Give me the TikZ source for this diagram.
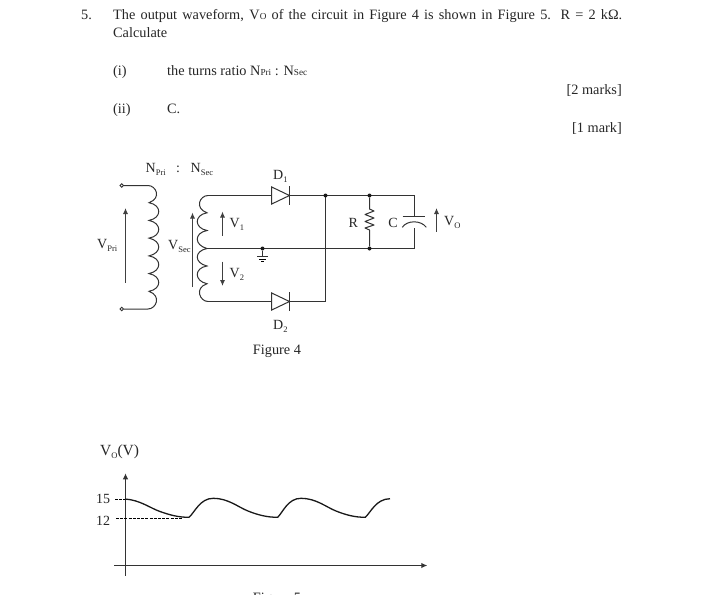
\documentclass[tikz,border=0pt]{standalone}
\usepackage{fontspec}
\setmainfont{Liberation Serif}
\usetikzlibrary{arrows.meta}
\tikzset{
  txt/.style={inner sep=0pt,font=\fontsize{14.3}{16}\selectfont,text=black!85},
  lbl/.style={inner sep=0pt,font=\fontsize{14}{16}\selectfont,text=black!85},
  wire/.style={line width=1pt,black!80},
  volt/.style={line width=1pt,black!75,-{Latex[length=6pt,width=5pt]}},
  dotn/.style={circle,fill=black!90,inner sep=0pt,minimum size=4pt},
  term/.style={circle,draw=black!80,fill=white,line width=0.9pt,inner sep=0pt,minimum size=3.6pt},
  dio/.style={line width=1pt,black!80,fill=white},
}
\newcommand{\subs}[1]{\raisebox{-3pt}{\fontsize{8.5}{9}\selectfont #1}}
\newcommand{\insub}[1]{\raisebox{-0.5pt}{\fontsize{9.2}{10}\selectfont #1}}
\begin{document}
\begin{tikzpicture}[x=1pt,y=-1pt]
\useasboundingbox (0,0) rectangle (705,595);
\fill[white] (0,0) rectangle (705,595);
% question text
\node[txt,anchor=base west] (q5) at (81,19) {5.};
\node[txt,anchor=base west] (q1) at (113,19) {\makebox[509pt][s]{The output waveform, V\insub{O} of the circuit in Figure 4 is shown in Figure 5. R = 2 kΩ.}};
\node[txt,anchor=base west] (q2) at (113,37) {Calculate};
\node[txt,anchor=base west] (qi) at (113,75) {(i)};
\node[txt,anchor=base west] (qit) at (167,75) {the turns ratio N\insub{Pri} : N\insub{Sec}};
\node[txt,anchor=base east] (m2) at (622,94) {[2 marks]};
\node[txt,anchor=base west] (qii) at (113,113) {(ii)};
\node[txt,anchor=base west] (qiit) at (167,113) {C.};
\node[txt,anchor=base east] (m1) at (622,132) {[1 mark]};
% terminals and coordinates
\node[term] (t1) at (121.7,185.5) {};
\node[term] (t2) at (121.7,309) {};
\coordinate (ptop) at (148,185.5);
\coordinate (pbot) at (148,309);
\coordinate (stop) at (208,195.5);
\coordinate (sbot) at (208,301.5);
\coordinate (smid) at (205,248.5);
\coordinate (c1) at (414.5,195.5);
\coordinate (c2) at (414.5,248.5);
\coordinate (j2) at (325.5,301.5);
% primary coil
\draw[wire] (t1) -- (ptop)
  .. controls (156,185.5) and (162,198) .. (149,202.7)
  .. controls (162,205) and (162,218) .. (149,220.4)
  .. controls (162,223) and (162,236) .. (149,238.1)
  .. controls (162,241) and (162,253) .. (149,255.9)
  .. controls (162,258) and (162,271) .. (149,273.6)
  .. controls (162,276) and (162,289) .. (149,291.3)
  .. controls (162,296) and (156,309) .. (pbot) -- (t2);
% secondary coil
\draw[wire] (stop)
  .. controls (200,195.5) and (194,208) .. (207,212.8)
  .. controls (194,215) and (194,228) .. (207,230.5)
  .. controls (194,233) and (194,245) .. (207,248.5)
  .. controls (194,251) and (194,263) .. (207,266)
  .. controls (194,268) and (194,281) .. (207,283.7)
  .. controls (194,288) and (200,301.5) .. (sbot);
% wires and junctions
\draw[wire] (stop) -- (272,195.5);
\draw[wire] (sbot) -- (272,301.5);
\draw[wire] (smid) -- (c2) -- (414.5,228);
\draw[wire] (325.5,195.5) -- (j2) -- (289,301.5);
\draw[wire] (289,195.5) -- (c1) -- (414.5,216.5);
\node[dotn] (j1) at (325.5,195.5) {};
\node[dotn] (r1) at (369.5,195.5) {};
\node[dotn] (r2) at (369.5,248.5) {};
\node[dotn] (g0) at (262.5,248.5) {};
% diodes
\draw[dio] (271.7,187) -- (289.5,195.5) -- (271.7,204) -- cycle;
\draw[dio] (289.5,186) -- (289.5,205);
\draw[dio] (271.7,293) -- (289.5,301.5) -- (271.7,310) -- cycle;
\draw[dio] (289.5,292) -- (289.5,311);
% resistor
\draw[wire,line join=round] (r1) -- (369.5,209) -- (374,211) -- (365,214.5) -- (374,218) -- (365,221.5) -- (374,225) -- (365,228) -- (369.5,230) -- (r2);
% capacitor
\draw[wire] (402.7,216.5) -- (425.3,216.5);
\draw[wire] (402.3,227.3) .. controls (407,220) and (421,220) .. (426.3,227.3);
% ground
\draw[wire] (g0) -- (262.5,256);
\draw[wire] (257.3,256.5) -- (268.3,256.5);
\draw[line width=0.8pt] (259,259) -- (266.4,259);
\draw[line width=0.8pt] (261.2,261.6) -- (264.2,261.6);
% voltage arrows
\draw[volt] (125.5,282.7) -- (125.5,208);
\draw[volt] (192.5,287) -- (192.5,212.5);
\draw[volt] (222.5,235.7) -- (222.5,211.5);
\draw[volt] (222.5,261.7) -- (222.5,286);
\draw[volt] (436.5,231.7) -- (436.5,208);
% labels
\node[lbl,anchor=base west] (np) at (145.5,172) {N\subs{Pri}};
\node[lbl,anchor=base] (col) at (178,172) {:};
\node[lbl,anchor=base west] (ns) at (190.5,172) {N\subs{Sec}};
\node[lbl,anchor=base west] (vp) at (97,248) {V\subs{Pri}};
\node[lbl,anchor=base west] (vs) at (168,249) {V\subs{Sec}};
\node[lbl,anchor=base west] (v1) at (229.5,227.5) {V\subs{1}};
\node[lbl,anchor=base west] (v2) at (229.5,277.5) {V\subs{2}};
\node[lbl,anchor=base west] (d1) at (273,179) {D\subs{1}};
\node[lbl,anchor=base west] (d2) at (273,329) {D\subs{2}};
\node[lbl,anchor=base] (rl) at (353.3,227) {R};
\node[lbl,anchor=base] (cl) at (393,227) {C};
\node[lbl,anchor=base west] (vo) at (444,225) {V\subs{O}};
\node[txt,anchor=base] (f4) at (277,354) {Figure 4};
% graph
\coordinate (yb) at (125.5,575.7);
\coordinate (yt) at (125.5,473.3);
\coordinate (xl) at (114,565.5);
\coordinate (xr) at (427.3,565.5);
\draw[wire,-{Latex[length=6pt,width=5.5pt]}] (yb) -- (yt);
\draw[wire,-{Latex[length=6pt,width=5.5pt]}] (xl) -- (xr);
\draw[line width=0.7pt,dash pattern=on 3pt off 1.2pt] (115,499) -- (125,499);
\draw[line width=0.7pt,dash pattern=on 3pt off 1.2pt] (116,518.7) -- (181.7,518.7);
\node[lbl,anchor=base] (y15) at (103,503) {15};
\node[lbl,anchor=base] (y12) at (103,525) {12};
\node[lbl,anchor=base west] (gt) at (100,455) {\fontsize{15.5}{16}\selectfont V\subs{O}(V)};
\draw[line width=1.3pt,black!90,line join=round]
  (125,499) .. controls (140,500) and (150,508) .. (160,511.5)
  .. controls (170,515) and (178,517.3) .. (189,517.3)
  .. controls (195,512) and (200,498.3) .. (213.3,498.3)
  .. controls (228,498.3) and (238,507) .. (248,511)
  .. controls (258,515) and (267,517.3) .. (277.7,517.3)
  .. controls (283,512) and (288,498.3) .. (301,498.3)
  .. controls (316,498.3) and (326,507) .. (336,511)
  .. controls (346,515) and (355,517.3) .. (365.3,517.3)
  .. controls (371,512) and (376,499) .. (390,498.7);
\node[txt,anchor=base] (f5) at (277,602) {Figure 5};
\end{tikzpicture}
\end{document}
